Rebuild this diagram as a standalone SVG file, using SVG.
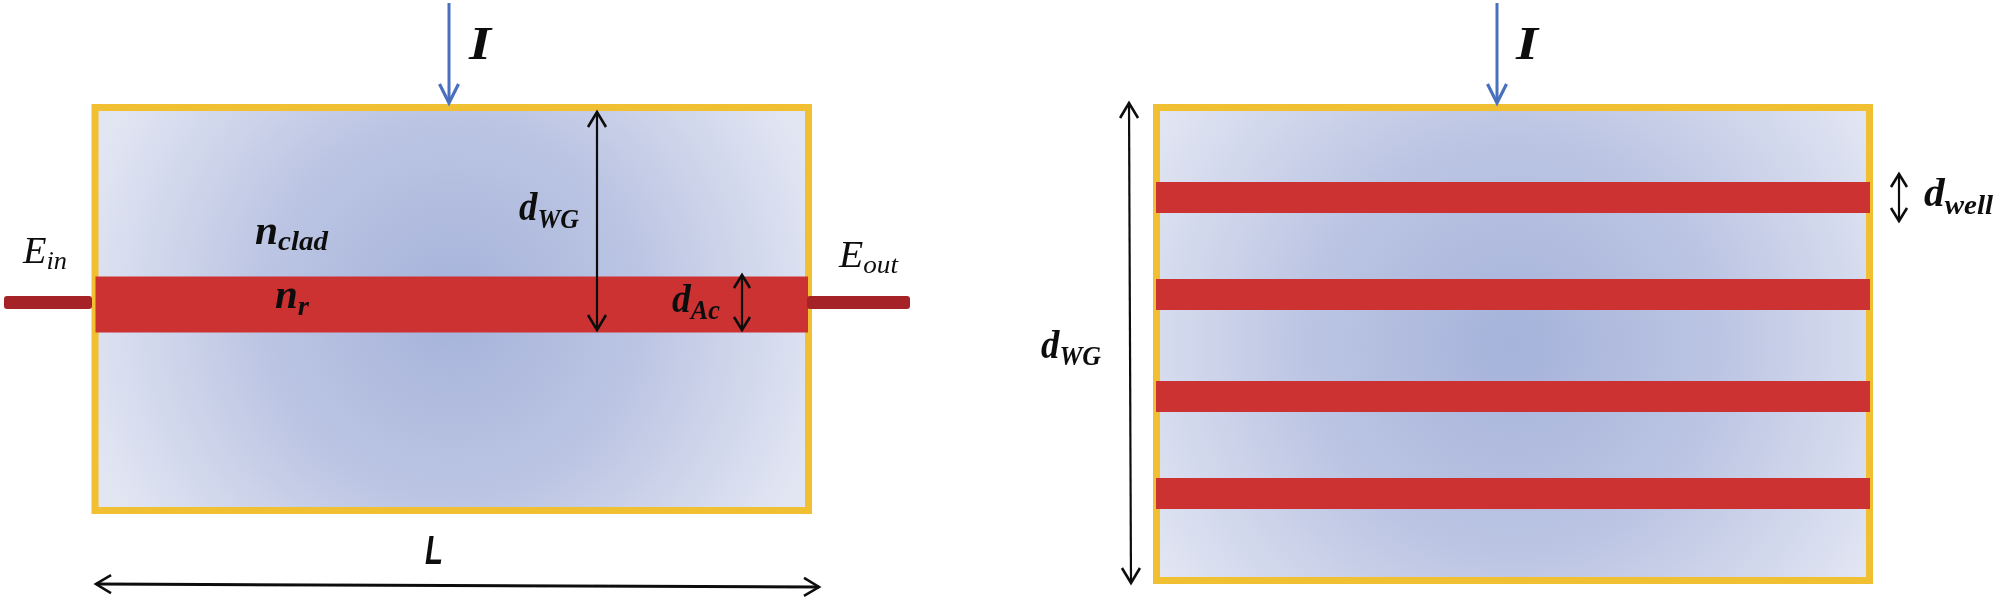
<svg xmlns="http://www.w3.org/2000/svg" width="1997" height="602" viewBox="0 0 1997 602">
<style>
.frame{stroke:#f0c030;stroke-width:7}
.band{fill:#cd3333}
.lead{fill:#a52328}
.blk{fill:none;stroke:#111;stroke-width:2.2}
.blu{fill:none;stroke:#4a6fbe;stroke-width:3}
.m{font-family:"Liberation Serif",serif;font-style:italic;font-weight:bold;fill:#111;font-size:40px}
.s{font-size:28px}
.t{font-weight:normal;font-size:38px}
.ts{font-size:26px}
.big{font-size:47px}
.ell{font-family:"Liberation Sans",sans-serif;font-size:40px}
svg>g{filter:url(#soft)}
</style>
<defs>
<filter id="soft" filterUnits="userSpaceOnUse" x="0" y="0" width="1997" height="602"><feGaussianBlur stdDeviation="0.5"/></filter>
<radialGradient id="gl" gradientUnits="userSpaceOnUse" cx="452" cy="308" r="385">
<stop offset="0" stop-color="#a5b2da"/><stop offset="0.5" stop-color="#bcc5e3"/><stop offset="1" stop-color="#e2e6f3"/>
</radialGradient>
<radialGradient id="gr" gradientUnits="userSpaceOnUse" cx="1513" cy="345" r="420">
<stop offset="0" stop-color="#a5b2da"/><stop offset="0.5" stop-color="#bcc5e3"/><stop offset="1" stop-color="#e2e6f3"/>
</radialGradient>
<marker id="ak" markerUnits="userSpaceOnUse" markerWidth="24" markerHeight="24" viewBox="-20 -12 24 24" refX="0" refY="0" orient="auto-start-reverse">
<path d="M-15 -9L0 0L-15 9" fill="none" stroke="#111" stroke-width="2.6"/>
</marker>
<marker id="aks" markerUnits="userSpaceOnUse" markerWidth="20" markerHeight="24" viewBox="-16 -12 20 24" refX="0" refY="0" orient="auto-start-reverse">
<path d="M-13 -8L0 0L-13 8" fill="none" stroke="#111" stroke-width="2.6"/>
</marker>
<marker id="ab" markerUnits="userSpaceOnUse" markerWidth="26" markerHeight="26" viewBox="-22 -13 26 26" refX="0" refY="0" orient="auto">
<path d="M-19 -9.500L0 0L-19 9.500" fill="none" stroke="#4a6fbe" stroke-width="3.2"/>
</marker>
</defs>
<g id="box-left">
<rect class="frame" x="95" y="107.500" width="713.500" height="403" fill="url(#gl)"/>
<rect class="band" x="95.500" y="276.500" width="712.500" height="56"/>
</g>
<g id="box-right">
<rect class="frame" x="1156.500" y="107.500" width="713" height="473" fill="url(#gr)"/>
<rect class="band" x="1156" y="182" width="714" height="31"/>
<rect class="band" x="1156" y="279" width="714" height="31"/>
<rect class="band" x="1156" y="381" width="714" height="31"/>
<rect class="band" x="1156" y="478" width="714" height="31"/>
</g>
<g id="connectors">
<rect class="lead" x="4" y="296" width="88" height="13" rx="3"/>
<rect class="lead" x="807" y="296" width="103" height="13" rx="3"/>
<path class="blu" marker-end="url(#ab)" d="M449 3V103"/>
<path class="blu" marker-end="url(#ab)" d="M1497 3V103"/>
<path class="blk" marker-start="url(#ak)" marker-end="url(#ak)" d="M597 112V330"/>
<path class="blk" marker-start="url(#aks)" marker-end="url(#aks)" d="M742 275V330"/>
<path class="blk" style="stroke-width:3" marker-start="url(#ak)" marker-end="url(#ak)" d="M96 584L819 587"/>
<path class="blk" marker-start="url(#ak)" marker-end="url(#ak)" d="M1129 103L1131 583"/>
<path class="blk" marker-start="url(#aks)" marker-end="url(#aks)" d="M1899 174V221"/>
</g>
<g id="label-I-left"><text class="m big" x="469" y="59" textLength="22" lengthAdjust="spacingAndGlyphs">I</text></g>
<g id="label-I-right"><text class="m big" x="1516" y="59" textLength="22" lengthAdjust="spacingAndGlyphs">I</text></g>
<g id="label-Ein"><text class="m t" x="23" y="263" textLength="44" lengthAdjust="spacingAndGlyphs">E<tspan class="ts" dy="6">in</tspan></text></g>
<g id="label-Eout"><text class="m t" x="839" y="267" textLength="59" lengthAdjust="spacingAndGlyphs">E<tspan class="ts" dy="6">out</tspan></text></g>
<g id="label-nclad"><text class="m" x="255" y="244" textLength="73" lengthAdjust="spacingAndGlyphs">n<tspan class="s" dy="6">clad</tspan></text></g>
<g id="label-nr"><text class="m" x="275" y="308" textLength="34" lengthAdjust="spacingAndGlyphs">n<tspan class="s" dy="7">r</tspan></text></g>
<g id="label-dWG-left"><text class="m" x="519" y="220" textLength="60" lengthAdjust="spacingAndGlyphs">d<tspan class="s" dy="8">WG</tspan></text></g>
<g id="label-dAc"><text class="m" x="672" y="312" textLength="48" lengthAdjust="spacingAndGlyphs">d<tspan class="s" dy="7">Ac</tspan></text></g>
<g id="label-L"><text class="m ell" x="425" y="564" textLength="18" lengthAdjust="spacingAndGlyphs">L</text></g>
<g id="label-dWG-right"><text class="m" x="1041" y="358" textLength="60" lengthAdjust="spacingAndGlyphs">d<tspan class="s" dy="7">WG</tspan></text></g>
<g id="label-dwell"><text class="m" x="1924" y="206" textLength="69" lengthAdjust="spacingAndGlyphs">d<tspan class="s" dy="8">well</tspan></text></g>
</svg>
